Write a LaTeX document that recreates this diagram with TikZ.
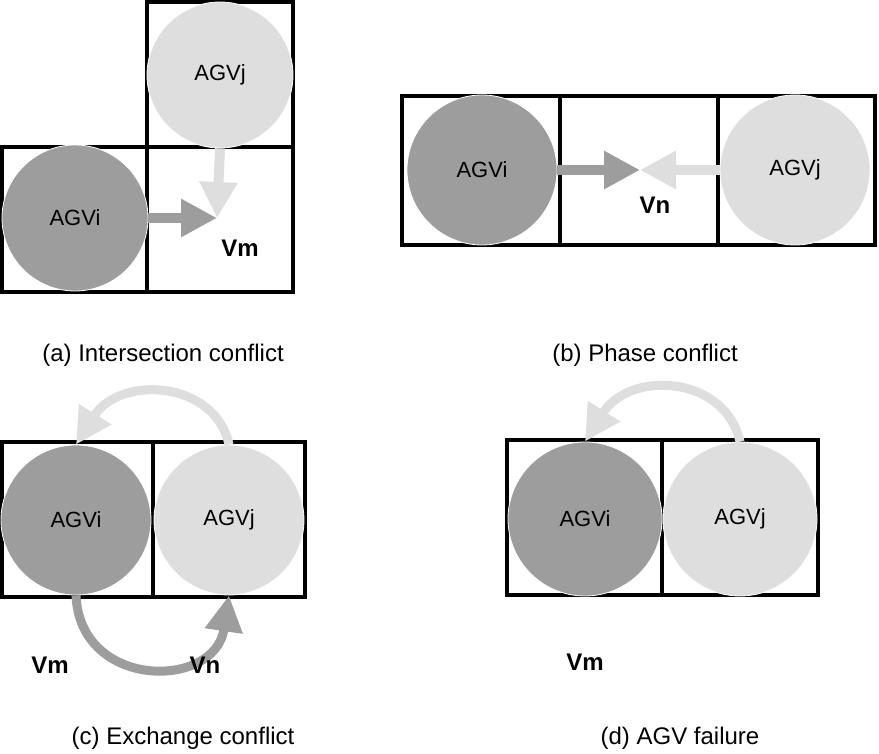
\documentclass[tikz,border=0pt]{standalone}
\usepackage{fontspec}
\setmainfont{Liberation Sans}
\usetikzlibrary{arrows.meta}
\definecolor{dk}{HTML}{9D9D9D}
\definecolor{lt}{HTML}{DEDEDE}
\begin{document}
\begin{tikzpicture}[x=1pt,y=-1pt,
  cell/.style={draw=black,line width=4pt,fill=white},
  agvd/.style={circle,fill=dk,draw=white,line width=0.8pt,minimum size=146pt,inner sep=0pt,font=\fontsize{22}{24}\selectfont},
  agvl/.style={circle,fill=lt,draw=white,line width=0.8pt,minimum size=146pt,inner sep=0pt,font=\fontsize{22}{24}\selectfont},
  arr/.style={line width=10pt,-{Triangle[length=36pt,width=36pt]}},
  lab/.style={font=\bfseries\fontsize{24}{26}\selectfont},
  captext/.style={font=\fontsize{24}{26}\selectfont}]
\useasboundingbox (0,0) rectangle (879,754);
% (a)
\draw[cell] (147,2) rectangle (293,147);
\draw[cell] (2,147) rectangle (147,292);
\draw[cell] (147,147) rectangle (293,292);
\node[agvl] (aj) at (220,75) {AGVj};
\node[agvd] (ai) at (75,218) {AGVi};
\coordinate (am) at (217,218);
\draw[arr,dk] (ai.east) -- (am);
\draw[arr,lt] (aj.south) -- (am);
\node[lab] (avm) at (240,248) {Vm};
\node[captext] (ca) at (163,355) {(a) Intersection conflict};
% (b)
\draw[cell] (402,96) rectangle (560,245);
\draw[cell] (560,96) rectangle (718,245);
\draw[cell] (718,96) rectangle (875,245);
\node[agvd,minimum size=150pt] (bi) at (482,170) {AGVi};
\node[agvl,minimum size=150pt] (bj) at (795,170) {AGVj};
\coordinate (bm) at (640,170);
\draw[arr,dk] (bi.east) -- (bm);
\draw[arr,lt] (bj.west) -- (bm);
\node[lab] (bvn) at (655,205) {Vn};
\node[captext] (cb) at (645,355) {(b) Phase conflict};
% (c)
\draw[cell] (2,442) rectangle (153,597);
\draw[cell] (153,442) rectangle (305,597);
\node[agvd,minimum size=150pt] (ci) at (76,520) {AGVi};
\node[agvl,minimum size=150pt] (cj) at (229,520) {AGVj};
\draw[arr,lt,line width=9pt] (cj.north) .. controls (215,380) and (120,375) .. (ci.north);
\draw[arr,dk,line width=9pt] (ci.south) .. controls (80,690) and (215,690) .. (cj.south);
\node[lab] (cvm) at (50,665) {Vm};
\node[lab] (cvn) at (205,665) {Vn};
\node[captext] (cc) at (183,738) {(c) Exchange conflict};
% (d)
\draw[cell] (507,440) rectangle (662,595);
\draw[cell] (662,440) rectangle (818,595);
\node[agvd,minimum size=154pt] (di) at (585,519) {AGVi};
\node[agvl,minimum size=154pt] (dj) at (740,519) {AGVj};
\draw[arr,lt,line width=9pt] (dj.north) .. controls (725,375) and (630,370) .. (di.north);
\node[lab] (dvm) at (585,662) {Vm};
\node[captext] (cd) at (680,738) {(d) AGV failure};
\end{tikzpicture}
\end{document}
